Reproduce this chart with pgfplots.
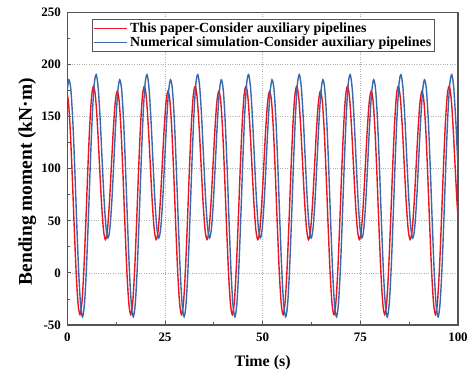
\documentclass[border=0pt]{standalone}
\usepackage{fontspec}
\setmainfont{Liberation Serif}
\usepackage{pgfplots}
\pgfplotsset{compat=1.18}
\definecolor{myred}{RGB}{232,22,32}
\definecolor{myblue}{RGB}{58,104,170}
\definecolor{axgray}{RGB}{85,85,85}
\definecolor{gridgray}{RGB}{175,175,175}
\begin{document}
\begin{tikzpicture}
\begin{axis}[
 scale only axis, width=390.7bp, height=312.5bp,
 xmin=0, xmax=100, ymin=-50, ymax=250,
 xtick={0,25,50,75,100}, ytick={-50,0,50,100,150,200,250},
 minor xtick={12.5,37.5,62.5,87.5}, minor ytick={-25,25,75,125,175,225},
 tick align=inside, xtick pos=bottom, ytick pos=left,
 major tick length=4bp, minor tick length=3bp,
 axis line style={axgray, line width=1.1bp},
 every tick/.style={axgray, line width=0.9bp},
 grid=major, major grid style={dotted, gridgray, line width=0.7bp},
 /pgf/number format/assume math mode=true,
 tick label style={font=\fontsize{13}{13}\selectfont\bfseries},
 x tick label style={yshift=-4bp},
 y tick label style={xshift=-3bp},
 xlabel={Time (s)}, ylabel={Bending moment (kN·m)},
 xlabel style={font=\fontsize{16}{16}\selectfont\bfseries, at={(axis description cs:0.5,-0.1216)}, anchor=center},
 ylabel style={font=\fontsize{19.5}{19.5}\selectfont\bfseries, at={(axis description cs:-0.1024,0.4584)}, anchor=center},
 legend style={at={(axis description cs:0.064,0.979)}, anchor=north west, draw=axgray, line width=0.8bp, font=\fontsize{14}{16.7}\selectfont\bfseries, inner xsep=1bp, inner ysep=1.5bp, row sep=-1bp, cells={anchor=west}},
 legend image code/.code={\draw[#1, line width=1.5bp] (0bp,0bp) -- (33bp,0bp);},
]
\addplot[myred, line width=1.4bp, smooth] coordinates {
(-0.25,174.3)(0.25,165.6)(0.75,137.4)(1.25,94.7)(1.75,46.1)(2.25,1.6)(2.75,-29.3)
(3.25,-40.0)(3.75,-28.1)(4.25,3.9)(4.75,49.4)(5.25,98.8)(5.75,142.1)(6.25,170.5)(6.75,179.2)(7.25,167.6)(7.75,139.7)(8.25,103.3)(8.75,67.7)(9.25,41.8)(9.75,32.0)(10.25,40.6)(10.75,65.4)(11.25,100.0)(11.75,135.6)(12.25,162.9)(12.75,174.3)(13.25,165.6)(13.75,137.4)(14.25,94.7)(14.75,46.1)(15.25,1.6)(15.75,-29.3)
(16.25,-40.0)(16.75,-28.1)(17.25,3.9)(17.75,49.4)(18.25,98.8)(18.75,142.1)(19.25,170.5)(19.75,179.2)(20.25,167.6)(20.75,139.7)(21.25,103.3)(21.75,67.7)(22.25,41.8)(22.75,32.0)(23.25,40.6)(23.75,65.4)(24.25,100.0)(24.75,135.6)(25.25,162.9)(25.75,174.3)(26.25,165.6)(26.75,137.4)(27.25,94.7)(27.75,46.1)(28.25,1.6)(28.75,-29.3)
(29.25,-40.0)(29.75,-28.1)(30.25,3.9)(30.75,49.4)(31.25,98.8)(31.75,142.1)(32.25,170.5)(32.75,179.2)(33.25,167.6)(33.75,139.7)(34.25,103.3)(34.75,67.7)(35.25,41.8)(35.75,32.0)(36.25,40.6)(36.75,65.4)(37.25,100.0)(37.75,135.6)(38.25,162.9)(38.75,174.3)(39.25,165.6)(39.75,137.4)(40.25,94.7)(40.75,46.1)(41.25,1.6)(41.75,-29.3)
(42.25,-40.0)(42.75,-28.1)(43.25,3.9)(43.75,49.4)(44.25,98.8)(44.75,142.1)(45.25,170.5)(45.75,179.2)(46.25,167.6)(46.75,139.7)(47.25,103.3)(47.75,67.7)(48.25,41.8)(48.75,32.0)(49.25,40.6)(49.75,65.4)(50.25,100.0)(50.75,135.6)(51.25,162.9)(51.75,174.3)(52.25,165.6)(52.75,137.4)(53.25,94.7)(53.75,46.1)(54.25,1.6)(54.75,-29.3)
(55.25,-40.0)(55.75,-28.1)(56.25,3.9)(56.75,49.4)(57.25,98.8)(57.75,142.1)(58.25,170.5)(58.75,179.2)(59.25,167.6)(59.75,139.7)(60.25,103.3)(60.75,67.7)(61.25,41.8)(61.75,32.0)(62.25,40.6)(62.75,65.4)(63.25,100.0)(63.75,135.6)(64.25,162.9)(64.75,174.3)(65.25,165.6)(65.75,137.4)(66.25,94.7)(66.75,46.1)(67.25,1.6)(67.75,-29.3)
(68.25,-40.0)(68.75,-28.1)(69.25,3.9)(69.75,49.4)(70.25,98.8)(70.75,142.1)(71.25,170.5)(71.75,179.2)(72.25,167.6)(72.75,139.7)(73.25,103.3)(73.75,67.7)(74.25,41.8)(74.75,32.0)(75.25,40.6)(75.75,65.4)(76.25,100.0)(76.75,135.6)(77.25,162.9)(77.75,174.3)(78.25,165.6)(78.75,137.4)(79.25,94.7)(79.75,46.1)(80.25,1.6)(80.75,-29.3)
(81.25,-40.0)(81.75,-28.1)(82.25,3.9)(82.75,49.4)(83.25,98.8)(83.75,142.1)(84.25,170.5)(84.75,179.2)(85.25,167.6)(85.75,139.7)(86.25,103.3)(86.75,67.7)(87.25,41.8)(87.75,32.0)(88.25,40.6)(88.75,65.4)(89.25,100.0)(89.75,135.6)(90.25,162.9)(90.75,174.3)(91.25,165.6)(91.75,137.4)(92.25,94.7)(92.75,46.1)(93.25,1.6)(93.75,-29.3)
(94.25,-40.0)(94.75,-28.1)(95.25,3.9)(95.75,49.4)(96.25,98.8)(96.75,142.1)(97.25,170.5)(97.75,179.2)(98.25,167.6)(98.75,139.7)(99.25,103.3)(99.75,67.7)(100.25,41.8)
};
\addlegendentry{This paper-Consider auxiliary pipelines}
\addplot[myblue, line width=1.4bp, smooth] coordinates {
(-0.1,173.2)(0.4,185.4)(0.9,176.3)(1.4,146.4)(1.9,101.2)(2.4,49.5)(2.9,2.2)(3.4,-30.6)
(3.9,-42.1)(4.4,-29.5)(4.9,4.6)(5.4,52.8)(5.9,105.3)(6.4,151.1)(6.9,181.3)(7.4,190.4)(7.9,177.9)(8.4,148.2)(8.9,109.3)(9.4,71.4)(9.9,43.9)(10.4,33.5)(10.9,42.7)(11.4,69.1)(11.9,106.0)(12.4,144.0)(12.9,173.2)(13.4,185.4)(13.9,176.3)(14.4,146.4)(14.9,101.2)(15.4,49.5)(15.9,2.2)(16.4,-30.6)
(16.9,-42.1)(17.4,-29.5)(17.9,4.6)(18.4,52.8)(18.9,105.3)(19.4,151.1)(19.9,181.3)(20.4,190.4)(20.9,177.9)(21.4,148.2)(21.9,109.3)(22.4,71.4)(22.9,43.9)(23.4,33.5)(23.9,42.7)(24.4,69.1)(24.9,106.0)(25.4,144.0)(25.9,173.2)(26.4,185.4)(26.9,176.3)(27.4,146.4)(27.9,101.2)(28.4,49.5)(28.9,2.2)(29.4,-30.6)
(29.9,-42.1)(30.4,-29.5)(30.9,4.6)(31.4,52.8)(31.9,105.3)(32.4,151.1)(32.9,181.3)(33.4,190.4)(33.9,177.9)(34.4,148.2)(34.9,109.3)(35.4,71.4)(35.9,43.9)(36.4,33.5)(36.9,42.7)(37.4,69.1)(37.9,106.0)(38.4,144.0)(38.9,173.2)(39.4,185.4)(39.9,176.3)(40.4,146.4)(40.9,101.2)(41.4,49.5)(41.9,2.2)(42.4,-30.6)
(42.9,-42.1)(43.4,-29.5)(43.9,4.6)(44.4,52.8)(44.9,105.3)(45.4,151.1)(45.9,181.3)(46.4,190.4)(46.9,177.9)(47.4,148.2)(47.9,109.3)(48.4,71.4)(48.9,43.9)(49.4,33.5)(49.9,42.7)(50.4,69.1)(50.9,106.0)(51.4,144.0)(51.9,173.2)(52.4,185.4)(52.9,176.3)(53.4,146.4)(53.9,101.2)(54.4,49.5)(54.9,2.2)(55.4,-30.6)
(55.9,-42.1)(56.4,-29.5)(56.9,4.6)(57.4,52.8)(57.9,105.3)(58.4,151.1)(58.9,181.3)(59.4,190.4)(59.9,177.9)(60.4,148.2)(60.9,109.3)(61.4,71.4)(61.9,43.9)(62.4,33.5)(62.9,42.7)(63.4,69.1)(63.9,106.0)(64.4,144.0)(64.9,173.2)(65.4,185.4)(65.9,176.3)(66.4,146.4)(66.9,101.2)(67.4,49.5)(67.9,2.2)(68.4,-30.6)
(68.9,-42.1)(69.4,-29.5)(69.9,4.6)(70.4,52.8)(70.9,105.3)(71.4,151.1)(71.9,181.3)(72.4,190.4)(72.9,177.9)(73.4,148.2)(73.9,109.3)(74.4,71.4)(74.9,43.9)(75.4,33.5)(75.9,42.7)(76.4,69.1)(76.9,106.0)(77.4,144.0)(77.9,173.2)(78.4,185.4)(78.9,176.3)(79.4,146.4)(79.9,101.2)(80.4,49.5)(80.9,2.2)(81.4,-30.6)
(81.9,-42.1)(82.4,-29.5)(82.9,4.6)(83.4,52.8)(83.9,105.3)(84.4,151.1)(84.9,181.3)(85.4,190.4)(85.9,177.9)(86.4,148.2)(86.9,109.3)(87.4,71.4)(87.9,43.9)(88.4,33.5)(88.9,42.7)(89.4,69.1)(89.9,106.0)(90.4,144.0)(90.9,173.2)(91.4,185.4)(91.9,176.3)(92.4,146.4)(92.9,101.2)(93.4,49.5)(93.9,2.2)(94.4,-30.6)
(94.9,-42.1)(95.4,-29.5)(95.9,4.6)(96.4,52.8)(96.9,105.3)(97.4,151.1)(97.9,181.3)(98.4,190.4)(98.9,177.9)(99.4,148.2)(99.9,109.3)(100.4,71.4)
};
\addlegendentry{Numerical simulation-Consider auxiliary pipelines}
\end{axis}
\pgfresetboundingbox
\path (current axis.south west) ++(-67.3bp,-54bp) rectangle ([xshift=16bp,yshift=12.5bp]current axis.north east);
\end{tikzpicture}
\end{document}
